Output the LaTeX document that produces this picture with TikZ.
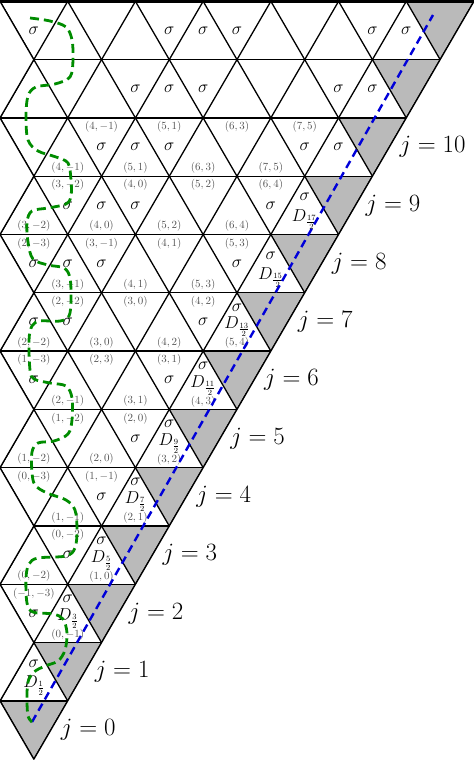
\documentclass[tikz,border=0pt]{standalone}
\usepackage{amsmath}
\begin{document}
\begin{tikzpicture}[x=1pt,y=-1pt,
  lat/.style={line width=1.3pt, line cap=round, line join=round},
  sig/.style={font=\fontsize{17}{20}\selectfont, inner sep=0pt},
  dnode/.style={font=\fontsize{17}{20}\selectfont, inner sep=0pt, anchor=base},
  lab/.style={font=\fontsize{10.5}{12}\selectfont, text=black!68, inner sep=0pt},
  jlab/.style={font=\fontsize{27}{30}\selectfont, anchor=west, inner sep=0pt},
  greytri/.style={fill=black!27},
  gpath/.style={draw=green!55!black, line width=2.8pt, dash pattern=on 9pt off 5pt},
  bpath/.style={draw=blue!85!black, line width=2.4pt, dash pattern=on 8pt off 5pt}]
\useasboundingbox (0,0) rectangle (474,761);
\def\u{33.857}
\def\h{58.3}
\def\yo{1.3}
% grey triangles
\foreach \r in {0,...,12} {
  \fill[greytri] ({(12-\r)*\u},{\yo+\r*\h}) -- ({(14-\r)*\u},{\yo+\r*\h}) -- ({(13-\r)*\u},{\yo+(\r+1)*\h}) -- cycle;
}
% lattice
\begin{scope}
\clip (0,\yo) \foreach \k in {1,...,13} { -- ({mod(\k,2)*\u},{\yo+\k*\h}) } -- ({14*\u},\yo) -- cycle;
\foreach \k in {0,...,12} \draw[lat] (-10,{\yo+\k*\h}) -- (490,{\yo+\k*\h});
\foreach \m in {-7,...,7} \draw[lat] ({2*\m*\u},\yo) -- ({(2*\m+13)*\u},{\yo+13*\h});
\foreach \m in {0,...,14} \draw[lat] ({2*\m*\u},\yo) -- ({(2*\m-13)*\u},{\yo+13*\h});
\end{scope}
\draw[lat] (0,\yo) \foreach \k in {1,...,13} { -- ({mod(\k,2)*\u},{\yo+\k*\h}) } -- ({14*\u},\yo);
\draw[line width=2.6pt] (0,\yo) -- ({14*\u},\yo);
% sigma in plain triangles
\foreach \r/\c in {0/1,0/5,0/6,0/7,0/11,0/12,
                   1/4,1/5,1/6,1/10,1/11,
                   2/3,2/4,2/5,2/9,2/10,
                   3/2,3/3,3/4,3/8,
                   4/1,4/2,4/3,4/7,
                   5/1,5/2,5/6,
                   6/1,6/5,
                   7/4,
                   8/3,
                   9/2,
                   10/1}
  \node[sig] (s-\r-\c) at ({\c*\u},{\yo+(\r+0.5)*\h}) {$\sigma$};
% D triangles with label below
\foreach \r/\c/\n/\lb in {5/7/13/{(5,4)},6/6/11/{(4,3)},7/5/9/{(3,2)},8/4/7/{(2,1)},9/3/5/{(1,0)},10/2/3/{(0,-1)}} {
  \node[sig] (ds-\r) at ({\c*\u},{\yo+\r*\h+14.5}) {$\sigma$};
  \node[dnode] (d-\r) at ({\c*\u},{\yo+\r*\h+36}) {$D_{\frac{\n}{2}}$};
  \node[lab] (dl-\r) at ({\c*\u},{\yo+(\r+1)*\h-8}) {$\lb$};
}
% D triangles without label
\foreach \r/\c/\n in {3/9/17,4/8/15,11/1/1} {
  \node[sig] (ds-\r) at ({\c*\u},{\yo+\r*\h+21}) {$\sigma$};
  \node[dnode] (d-\r) at ({\c*\u},{\yo+\r*\h+45}) {$D_{\frac{\n}{2}}$};
}
% labels near top edge (down triangles)
\foreach \r/\c/\lb in {2/3/{(4,-1)},2/5/{(5,1)},2/7/{(6,3)},2/9/{(7,5)},
                       3/2/{(3,-2)},3/4/{(4,0)},3/6/{(5,2)},3/8/{(6,4)},
                       4/1/{(2,-3)},4/3/{(3,-1)},4/5/{(4,1)},4/7/{(5,3)},
                       5/2/{(2,-2)},5/4/{(3,0)},5/6/{(4,2)},
                       6/1/{(1,-3)},6/3/{(2,3)},6/5/{(3,1)},
                       7/2/{(1,-2)},7/4/{(2,0)},
                       8/1/{(0,-3)},8/3/{(1,-1)},
                       9/2/{(0,-2)},
                       10/1/{(-1,-3)}}
  \node[lab] (t-\r-\c) at ({\c*\u},{\yo+\r*\h+9}) {$\lb$};
% labels near bottom edge (up triangles)
\foreach \r/\c/\lb in {2/2/{(4,-1)},2/4/{(5,1)},2/6/{(6,3)},2/8/{(7,5)},
                       3/1/{(3,-2)},3/3/{(4,0)},3/5/{(5,2)},3/7/{(6,4)},
                       4/2/{(3,-1)},4/4/{(4,1)},4/6/{(5,3)},
                       5/1/{(2,-2)},5/3/{(3,0)},5/5/{(4,2)},
                       6/2/{(2,-1)},6/4/{(3,1)},
                       7/1/{(1,-2)},7/3/{(2,0)},
                       8/2/{(1,-1)},
                       9/1/{(0,-2)}}
  \node[lab] (b-\r-\c) at ({\c*\u},{\yo+(\r+1)*\h-8.5}) {$\lb$};
% j labels
\foreach \r in {2,...,12} {
  \pgfmathtruncatemacro\jj{12-\r}
  \node[jlab] (j-\r) at ({(13.5-\r)*\u+10},{\yo+(\r+0.5)*\h}) {$j=\jj$};
}
% paths
\coordinate (p0) at (32,722);
\coordinate (p1) at (433,15);
\draw[bpath] (p0) -- (p1);
\draw[gpath] plot[smooth,tension=0.55] coordinates {
(30,18) (50,21) (66,27) (72,40) (73,60) (70,77) (55,84) (36,87) (28,96) (26,117)
(28,140) (38,151) (56,157) (68,163) (71,180) (71,196) (66,204) (48,208) (32,211)
(27,222) (28,242) (33,259) (48,265) (64,268) (70,278) (71,300) (69,316) (60,321)
(40,321) (32,326) (29,340) (30,370) (34,379) (50,383) (66,386) (72,398) (72,420)
(68,434) (54,441) (38,443) (32,452) (32,472) (35,485) (47,493) (66,500) (75,510)
(77,530) (75,548) (66,556) (38,558) (29,564) (26,578) (27,603) (33,612) (53,614)
(63,619) (67,633) (65,650) (58,661) (45,666) (34,672) (28,682) (27,700) (28,716) (32,722)};
\end{tikzpicture}
\end{document}
